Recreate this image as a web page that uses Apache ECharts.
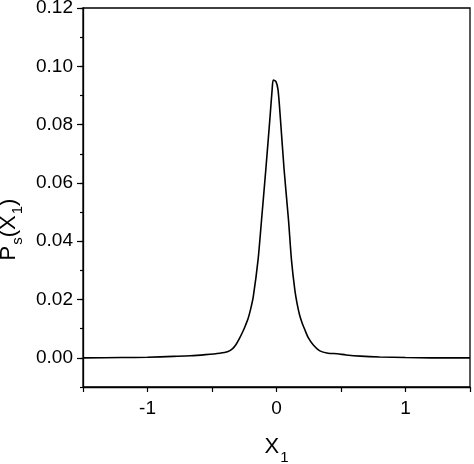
<!DOCTYPE html>
<html><head><meta charset="utf-8">
<script src="https://cdn.jsdelivr.net/npm/echarts@6/dist/echarts.min.js"></script>
<style>html,body{margin:0;padding:0;background:#fff}#c{width:474px;height:464px}</style>
</head><body><div id="c"></div>
<script>
// stationary distribution P_s(X_1)
const xValues = [-1.5, -1.2, -1.0, -0.8, -0.67, -0.55, -0.44, -0.38, -0.34, -0.315, -0.29, -0.259, -0.24, -0.22, -0.2, -0.18, -0.143, -0.116, -0.083, -0.052, -0.034, -0.025, -0.005, 0.012, 0.031, 0.059, 0.093, 0.116, 0.142, 0.16, 0.18, 0.2, 0.219, 0.245, 0.284, 0.336, 0.4, 0.47, 0.54, 0.65, 0.8, 1.0, 1.2, 1.5];
const yValues = [0.0000, 0.0001, 0.0002, 0.0005, 0.0007, 0.0011, 0.0016, 0.0021, 0.0032, 0.0045, 0.0064, 0.0092, 0.0112, 0.0135, 0.0168, 0.0210, 0.0336, 0.0473, 0.0645, 0.0816, 0.0919, 0.0953, 0.0948, 0.0919, 0.0816, 0.0645, 0.0473, 0.0336, 0.0233, 0.0185, 0.0145, 0.0118, 0.0097, 0.0070, 0.0045, 0.0024, 0.0016, 0.0014, 0.0010, 0.0006, 0.0003, 0.0001, 0.0000, 0.0000];
const xTickLabels = [-1, 0, 1];
const yTickLabels = [0.00, 0.02, 0.04, 0.06, 0.08, 0.10, 0.12];

const FONT = 'Liberation Sans, Arial, sans-serif';
const points = xValues.map((x, i) => [x, yValues[i]]);

const chart = echarts.init(document.getElementById('c'), null, {renderer: 'canvas'});
chart.setOption({
  animation: false,
  backgroundColor: '#fff',
  grid: {left: 83, right: 4, top: 8, bottom: 77, containLabel: false, outerBoundsMode: 'none',
    show: true, borderColor: '#000', borderWidth: 1.3, backgroundColor: 'transparent'},
  xAxis: [{
    type: 'value', min: -1.5, max: 1.5, interval: 0.5,
    axisLine: {show: true, onZero: false, lineStyle: {color: '#000', width: 1.3}},
    axisTick: {show: true, inside: false, length: 5, lineStyle: {color: '#000', width: 1.2}},
    axisLabel: {show: true, customValues: xTickLabels, margin: 12, color: '#000', fontSize: 19, fontFamily: FONT,
      formatter: v => String(v)},
    splitLine: {show: false},
    name: '{m|X}{s|1}', nameLocation: 'middle', nameGap: 41,
    nameTextStyle: {color: '#000', fontFamily: FONT, fontSize: 22,
      rich: {m: {fontSize: 22, fontFamily: FONT, color: '#000'}, s: {fontSize: 15, fontFamily: FONT, color: '#000', padding: [22, 0, 0, 1]}}}
  }],
  yAxis: [{
    type: 'value', min: -0.01, max: 0.12,
    axisLine: {show: true, onZero: false, lineStyle: {color: '#000', width: 1.3}},
    axisTick: {show: true, inside: false, length: 6, customValues: yTickLabels, lineStyle: {color: '#000', width: 1.2}},
    axisLabel: {show: true, customValues: yTickLabels, margin: 10, color: '#000', fontSize: 19, fontFamily: FONT,
      formatter: v => v.toFixed(2)},
    splitLine: {show: false},
    name: '{m|P}{s|s}{m|(X}{s|1}{m|)}', nameLocation: 'middle', nameGap: 56, nameRotate: 90,
    nameTextStyle: {color: '#000', fontFamily: FONT, fontSize: 22, padding: [0, 64, 0, 0],
      rich: {m: {fontSize: 22, fontFamily: FONT, color: '#000'}, s: {fontSize: 15, fontFamily: FONT, color: '#000', padding: [18, 0, 0, 1]}}}
  }, {
    type: 'value', position: 'left', min: -0.01, max: 0.12, interval: 0.01,
    axisLine: {show: false, onZero: false},
    axisTick: {show: true, inside: false, length: 3, lineStyle: {color: '#000', width: 1.2}},
    axisLabel: {show: false},
    splitLine: {show: false}
  }],
  series: [{
    type: 'line', data: points, xAxisIndex: 0, yAxisIndex: 0,
    showSymbol: false, smooth: 0.25,
    lineStyle: {color: '#000', width: 1.6},
    clip: true
  }]
});
</script></body></html>
